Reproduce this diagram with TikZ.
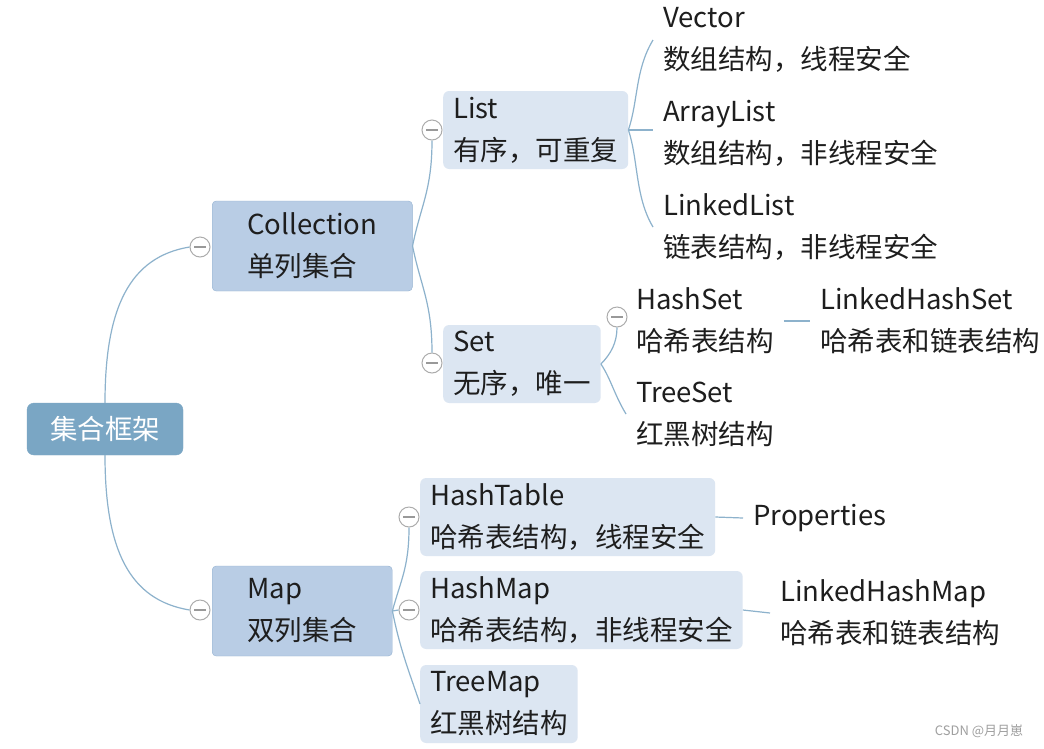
\documentclass[tikz,border=0pt]{standalone}
\usepackage{fontspec}
\setmainfont{Noto Sans CJK SC}
\usepackage{xcolor}
\usepackage{tikz}

\definecolor{rootblue}{HTML}{7AA6C4}
\definecolor{midblue}{HTML}{B9CDE5}
\definecolor{midedge}{HTML}{94B2D1}
\definecolor{paleblue}{HTML}{DCE6F2}
\definecolor{linkblue}{HTML}{8DB2CC}
\definecolor{inkgray}{HTML}{1E1E1E}

\begin{document}
\begin{tikzpicture}[x=1pt, y=-1pt,
  every node/.style={font=\fontsize{27.5}{42}\selectfont, text=inkgray, align=left},
  rootbox/.style={fill=rootblue, draw=rootblue, rounded corners=7pt, inner xsep=23pt, minimum height=52pt, text=white},
  mainbox/.style={fill=midblue, draw=midedge, rounded corners=4pt, inner xsep=35pt, inner ysep=0pt, minimum height=90pt, anchor=west},
  subbox/.style={fill=paleblue, rounded corners=6pt, inner xsep=10pt, inner ysep=0pt, minimum height=78pt, anchor=west},
  leaf/.style={inner xsep=10pt, inner ysep=0pt, anchor=west},
  fold/.style={circle, draw=gray!65, fill=white, minimum size=20pt, inner sep=0pt, line width=1pt,
    path picture={\draw[gray!80, line width=1.1pt] ([xshift=-6pt]path picture bounding box.center) -- ([xshift=6pt]path picture bounding box.center);}},
  branch/.style={draw=linkblue, line width=1.2pt}]

  \useasboundingbox[fill=white] (0,0) rectangle (1044,748);

  % root and first level
  \node[rootbox] (root) at (105,429) {集合框架};
  \node[mainbox] (col) at (212,246) {Collection\\单列集合};
  \node[mainbox] (map) at (212,611) {Map\\双列集合};

  % Collection side
  \node[subbox] (list) at (443,130) {List\\有序，可重复};
  \node[subbox] (set) at (443,364) {Set\\无序，唯一};
  \node[leaf] (vec) at (653,40) {Vector\\数组结构，线程安全};
  \node[leaf] (al) at (653,133) {ArrayList\\数组结构，非线程安全};
  \node[leaf] (ll) at (653,227) {LinkedList\\链表结构，非线程安全};
  \node[leaf] (hs) at (626,321) {HashSet\\哈希表结构};
  \node[leaf] (ts) at (626,414) {TreeSet\\红黑树结构};
  \node[leaf] (lhs) at (810,321) {LinkedHashSet\\哈希表和链表结构};

  % Map side
  \node[subbox] (ht) at (420,517) {HashTable\\哈希表结构，线程安全};
  \node[subbox] (hm) at (420,610) {HashMap\\哈希表结构，非线程安全};
  \node[subbox] (tm) at (420,704) {TreeMap\\红黑树结构};
  \node[leaf] (prop) at (743,518) {Properties};
  \node[leaf] (lhm) at (770,613) {LinkedHashMap\\哈希表和链表结构};

  % collapse markers
  \node[fold] (ccol) at (200,247) {};
  \node[fold] (cmap) at (200,610) {};
  \node[fold] (clist) at (432,130) {};
  \node[fold] (cset) at (432,363) {};
  \node[fold] (chs) at (617,317) {};
  \node[fold] (cht) at (409,517) {};
  \node[fold] (chm) at (409,610) {};

  % connectors
  \draw[branch] (root.north) .. controls +(0,-95) and +(-60,10) .. (ccol.west);
  \draw[branch] (root.south) .. controls +(0,95) and +(-60,-10) .. (cmap.west);
  \draw[branch] (col.east) .. controls +(8,-40) and +(0,50) .. (clist.south);
  \draw[branch] (col.east) .. controls +(8,40) and +(0,-50) .. (cset.north);
  \draw[branch] (list.east) .. controls +(10,-30) and +(-18,30) .. (vec.west);
  \draw[branch] (list.east) -- (al.west |- list.east);
  \draw[branch] (list.east) .. controls +(10,30) and +(-18,-30) .. (ll.west);
  \draw[branch] (set.east) .. controls +(10,-10) and +(0,15) .. (chs.south);
  \draw[branch] (set.east) .. controls +(10,15) and +(-12,-20) .. (ts.west);
  \draw[branch] (hs.east) -- (lhs.west);
  \draw[branch] (map.east) .. controls +(8,-30) and +(0,40) .. (cht.south);
  \draw[branch] (map.east) -- (chm.west);
  \draw[branch] (map.east) .. controls +(8,40) and +(-10,-30) .. (tm.west);
  \draw[branch] (ht.east) -- (prop.west);
  \draw[branch] (hm.east) -- (lhm.west);

  \node[font=\fontsize{13}{15}\selectfont, text=gray!75] (mark) at (979,731) {CSDN @月月崽};
\end{tikzpicture}
\end{document}
